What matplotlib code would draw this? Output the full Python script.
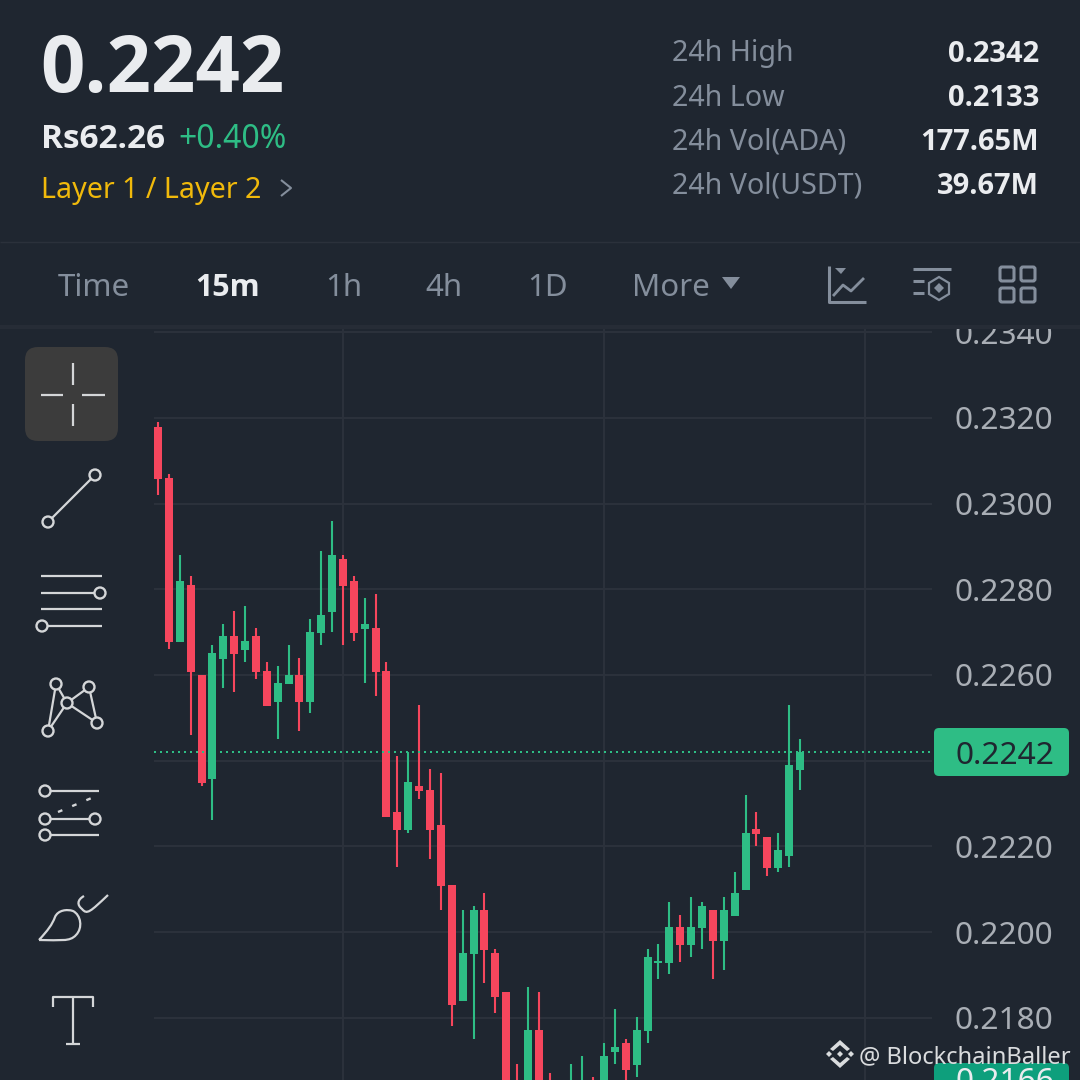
import matplotlib
matplotlib.use('Agg')
import matplotlib.pyplot as plt
from matplotlib.patches import Rectangle, FancyBboxPatch, Circle, Polygon, PathPatch
from matplotlib.path import Path

plt.rcParams['font.family'] = ['Noto Sans', 'DejaVu Sans']

# candle data (the last few below the frame are guesses)
opens = [.23179, .23060, .22677, .22810, .22600, .22357, .22638, .22691, .22659, .22691,
         .22610, .22537, .22579, .22600, .22537, .22698, .22747, .22871, .22820, .22708,
         .22710, .22610, .22280, .22238, .22341, .22332, .22250, .22110, .21839, .21949,
         .22052, .21951, .21860, .21643, .21600, .21772, .21640, .21600, .21550, .21580,
         .21640, .21600, .21720, .21741, .21690, .21769, .21928, .21928, .22012, .21970,
         .22010, .22052, .21979, .22038, .22098, .22241, .22222, .22150, .22178, .22378]
highs = [.23191, .23069, .22880, .22831, .22600, .22670, .22719, .22750, .22761, .22710,
         .22631, .22621, .22670, .22640, .22731, .22890, .22960, .22880, .22831, .22780,
         .22789, .22631, .22411, .22420, .22530, .22381, .22371, .22110, .22052, .22061,
         .22091, .21961, .21860, .21692, .21872, .21860, .21671, .21620, .21692, .21711,
         .21662, .21741, .21821, .21751, .21802, .21961, .21972, .22070, .22040, .22082,
         .22070, .22052, .22082, .22140, .22320, .22280, .22222, .22231, .22530, .22451]
lows = [.23020, .22661, .22677, .22460, .22341, .22262, .22570, .22560, .22631, .22591,
        .22528, .22451, .22579, .22469, .22511, .22670, .22701, .22670, .22680, .22582,
        .22551, .22269, .22152, .22231, .22311, .22171, .22052, .21781, .21839, .21751,
        .21881, .21811, .21560, .21530, .21570, .21570, .21520, .21500, .21520, .21540,
        .21570, .21580, .21692, .21640, .21662, .21741, .21891, .21902, .21930, .21942,
        .21961, .21891, .21912, .22038, .22098, .22201, .22131, .22140, .22152, .22332]
closes = [.23058, .22677, .22820, .22607, .22348, .22652, .22691, .22649, .22680, .22607,
          .22528, .22582, .22600, .22537, .22701, .22740, .22880, .22808, .22698, .22719,
          .22607, .22269, .22238, .22350, .22329, .22238, .22108, .21830, .21951, .22052,
          .21958, .21849, .21585, .21560, .21772, .21610, .21550, .21540, .21630, .21640,
          .21590, .21711, .21732, .21678, .21772, .21942, .21933, .22012, .21970, .22012,
          .22061, .21979, .22052, .22091, .22231, .22229, .22150, .22192, .22390, .22420]

price_ticks = [.2180, .2200, .2220, .2240, .2260, .2280, .2300, .2320, .2340]
# the 0.2240 label sits behind the current price tag
price_labels = ['0.2180', '0.2200', '0.2220', '', '0.2260', '0.2280', '0.2300', '0.2320', '0.2340']
time_ticks = [17, 41, 65]
last_price = .2242

stat_names = ['24h High', '24h Low', '24h Vol(ADA)', '24h Vol(USDT)']
stat_values = ['0.2342', '0.2133', '177.65M', '39.67M']
tabs = ['Time', '15m', '1h', '4h', '1D', 'More']

BG = '#1F2630'
GRID = '#2B313B'
UP = '#2EBD85'
DOWN = '#F6465D'
WHITE = '#EAECEF'
GREY = '#848E9C'
TOOL = '#D4D6D8'
BOLD = 'Open Sans'

fig = plt.figure(figsize=(10.8, 10.8), dpi=100, facecolor=BG)

##-- candle chart
ax = fig.add_axes([154/1080, 0, (932-154)/1080, (1080-327)/1080], facecolor=BG)
ax.set_xlim(-0.37, 71.14)
ax.set_ylim(.21655, .23412)
for s in ax.spines.values():
    s.set_visible(False)
ax.set_xticks(time_ticks)
ax.set_xticklabels([])
ax.set_yticks(price_ticks)
ax.set_yticklabels(price_labels, fontsize=22.8, color='#A9AEB5')
ax.yaxis.tick_right()
ax.tick_params(axis='both', length=0)
ax.tick_params(axis='y', pad=16.5)
ax.grid(True, color=GRID, lw=1.5)
ax.set_axisbelow(True)

for i in range(len(opens)):
    col = UP if closes[i] >= opens[i] else DOWN
    ax.vlines(i, lows[i], highs[i], color=col, lw=1.5, zorder=3)
    ax.bar(i, abs(closes[i]-opens[i]), bottom=min(opens[i], closes[i]), width=0.735, color=col, zorder=4)

ax.axhline(last_price, color=UP, lw=1.44, ls=(0, (1, 2)), zorder=5)

##-- everything else is laid out in pixels on top of the chart
ov = fig.add_axes([0, 0, 1, 1], zorder=5)
ov.set_xlim(0, 1080)
ov.set_ylim(1080, 0)
ov.axis('off')
ov.patch.set_alpha(0)


def line(xs, ys, color=TOOL, lw=1.6, **kw):
    ov.plot(xs, ys, color=color, lw=lw, solid_capstyle='butt', **kw)


def ring(x, y, r=5.5, color=TOOL):
    ov.add_patch(Circle((x, y), r, fc=BG, ec=color, lw=1.7, zorder=4))


def box(x0, y0, x1, y1, color, rad=6, **kw):
    ov.add_patch(FancyBboxPatch((x0+rad, y0+rad), x1-x0-2*rad, y1-y0-2*rad,
                                boxstyle='round,pad=%d,rounding_size=%d' % (rad, rad), fc=color, ec='none', **kw))


# header covers the top of the 0.2340 label
ov.add_patch(Rectangle((0, 0), 1080, 326, fc=BG, ec='none'))
ov.add_patch(Rectangle((0, 325), 1080, 4, fc='#262C36', ec='none'))
line([0, 1080], [241.5, 241.5], color='#2B313B', lw=1)

ov.text(40, 62, '0.2242', fontsize=56, family=BOLD, fontweight='bold', color=WHITE, va='center_baseline')
ov.text(41, 136, 'Rs62.26', fontsize=24, family=BOLD, fontweight='bold', color=WHITE, va='center_baseline')
ov.text(178, 136, '+0.40%', fontsize=23, color=UP, va='center_baseline')
ov.text(41, 187, 'Layer 1 / Layer 2', fontsize=20.6, color='#F0B90B', va='center_baseline')
line([281, 291, 281], [180, 188, 196], color=GREY, lw=1.5)

for k, yy in enumerate([50.5, 94.5, 138.5, 182.5]):
    ov.text(672, yy, stat_names[k], fontsize=20.6, color=GREY, va='center_baseline')
    ov.text(1039, yy, stat_values[k], fontsize=21, family=BOLD, fontweight='bold', color=WHITE, va='center_baseline', ha='right')

# timeframe tabs
tab_x = [94, 228, 344, 444, 548, 671]
for k, t in enumerate(tabs):
    if t == '15m':
        ov.text(tab_x[k], 285, t, fontsize=22, family=BOLD, fontweight='bold', ha='center', va='center_baseline', color=WHITE)
    else:
        ov.text(tab_x[k], 285, t, fontsize=22.5, ha='center', va='center_baseline', color=GREY)
ov.add_patch(Polygon([(722, 277), (740, 277), (731, 289)], fc=GREY, ec='none'))

# toolbar icons top right
line([829, 829, 866], [266, 302, 302], color=GREY, lw=2.2)
line([833, 843, 851, 864], [296, 285, 291, 278], color=GREY, lw=2)
ov.add_patch(Polygon([(835, 268), (846, 268), (841, 274)], fc=GREY, ec='none'))
line([913, 951], [269, 269], color=GREY, lw=2.2)
line([913, 924], [281, 281], color=GREY, lw=2.2)
line([913, 924], [293, 293], color=GREY, lw=2.2)
ov.add_patch(Polygon([(939, 277), (949, 283), (949, 294), (939, 300), (929, 294), (929, 283)], fc='none', ec=GREY, lw=1.6))
ov.add_patch(Polygon([(939, 283), (944, 288), (939, 293), (934, 288)], fc=GREY, ec='none'))
for x0 in [1000, 1021]:
    for y0 in [267, 288]:
        ov.add_patch(FancyBboxPatch((x0+1, y0+1), 12, 12, boxstyle='round,pad=1,rounding_size=2', fc='none', ec=GREY, lw=2.2))

# left drawing tools
box(25, 347, 118, 441, '#3C3C3C', rad=13)
line([73, 73], [363, 385])
line([73, 73], [404, 426])
line([41, 63], [395, 395])
line([82, 105], [395, 395])

line([48, 95], [522, 475])
ring(95, 475)
ring(48, 522)

line([41, 102], [576, 576])
line([41, 100], [593, 593])
line([41, 102], [609, 609])
line([42, 102], [626, 626])
ring(100, 593)
ring(42, 626)

line([56, 48, 67, 56], [684, 731, 703, 684])
line([67, 89, 97, 67], [703, 687, 723, 703])
for px, py in [(56, 684), (89, 687), (67, 703), (97, 723), (48, 731)]:
    ring(px, py)

line([45, 99], [791, 791])
line([45, 95], [819, 819])
line([45, 99], [835, 835])
ov.plot([58, 94], [812, 797], color=TOOL, lw=1.7, ls=(0, (2, 4.5)))
for px, py in [(45, 791), (45, 819), (95, 819), (45, 835)]:
    ring(px, py)

brush = Path([(39, 940), (48, 930), (52, 925), (55, 917), (58, 910), (67, 909), (73, 911),
              (81, 915), (83, 928), (76, 935), (70, 942), (60, 940), (39, 940)],
             [Path.MOVETO] + [Path.CURVE4]*12)
ov.add_patch(PathPatch(brush, fc='none', ec=TOOL, lw=1.6))
handle = Path([(84, 896), (77, 900), (77, 905), (82, 909), (87, 915), (90, 912), (108, 895)],
              [Path.MOVETO, Path.CURVE4, Path.CURVE4, Path.CURVE4, Path.CURVE4, Path.CURVE4, Path.CURVE4])
ov.add_patch(PathPatch(handle, fc='none', ec=TOOL, lw=1.6))

line([53, 53, 93, 93], [1007, 997, 997, 1007])
line([73, 73], [997, 1044])
line([66, 80], [1044, 1044])

# price tags
box(934, 728, 1069, 776, UP, rad=5)
ov.text(1005, 752, '%.4f' % last_price, fontsize=22.8, color=BG, ha='center', va='center_baseline')
box(934, 1063, 1069, 1100, '#0E9F7C', rad=5)
ov.text(1005, 1078, '0.2166', fontsize=22.8, color=WHITE, ha='center', va='center_baseline')

# watermark
LOGO = '#DADCDE'
for cx, cy in [(829, 1054), (840, 1054), (851, 1054)]:
    ov.add_patch(Polygon([(cx, cy-3), (cx+3, cy), (cx, cy+3), (cx-3, cy)], fc=LOGO, ec='none'))
ov.add_patch(Polygon([(840, 1040), (850, 1049), (847, 1051), (840, 1045), (833, 1051), (830, 1049)], fc=LOGO, ec='none'))
ov.add_patch(Polygon([(840, 1068), (850, 1059), (847, 1057), (840, 1063), (833, 1057), (830, 1059)], fc=LOGO, ec='none'))
ov.text(859, 1054, '@ BlockchainBaller', fontsize=17.1, color=LOGO, va='center_baseline')

fig.savefig('out.png', dpi=100, facecolor=BG)
